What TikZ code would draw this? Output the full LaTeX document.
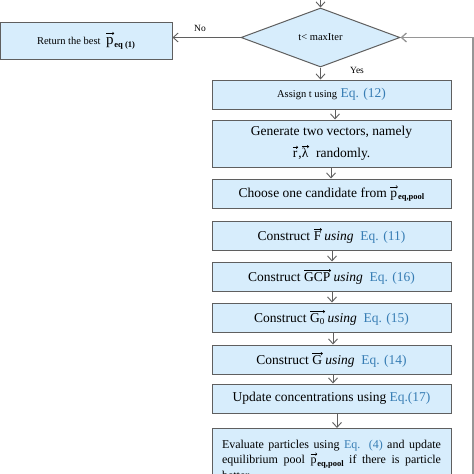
\documentclass[tikz,border=0pt]{standalone}
\usepackage{fontspec}
\setmainfont{Liberation Serif}
\usetikzlibrary{arrows.meta,shapes.geometric}
\definecolor{boxfill}{RGB}{215,237,252}
\definecolor{boxedge}{RGB}{95,95,95}
\definecolor{eqblue}{RGB}{55,125,180}
\definecolor{loopgray}{RGB}{150,150,150}
\newcommand\vv[1]{\tikz[baseline=(vt.base),x=1pt,y=1pt]{\node[inner sep=0pt,outer sep=0pt,draw=none,fill=none,minimum size=0pt] (vt) {#1\vphantom{I}};\draw[black,line width=0.5pt,-{To[length=2pt,width=3.2pt]}] ([yshift=1.6pt]vt.north west) -- ([yshift=1.6pt,xshift=0.6pt]vt.north east);}}
\newcommand\subx[1]{\raisebox{-2.5pt}{\fontsize{8.5}{8.5}\selectfont\bfseries #1}}
\newcommand\eqb[1]{\textcolor{eqblue}{#1}}
\newcommand\usingit{\textit{using}}
\hyphenpenalty=10000
\exhyphenpenalty=10000
\begin{document}
\begin{tikzpicture}[x=1pt,y=-1pt,
  stepbox/.style={draw=boxedge,line width=1pt,fill=boxfill,minimum width=239pt,minimum height=29pt,inner sep=2pt,font=\fontsize{13.5}{15}\selectfont},
  decis/.style={draw=boxedge,line width=1pt,fill=boxfill,diamond,aspect=2.7,minimum width=159pt,minimum height=59pt,inner sep=0pt,font=\fontsize{10.5}{12}\selectfont},
  arr/.style={draw=boxedge,line width=0.9pt,-{Straight Barb[length=5pt,width=9pt]}},
  lbl/.style={font=\fontsize{9.5}{11}\selectfont,inner sep=0pt}]
\clip (0,0) rectangle (474,474);
\fill[white] (0,0) rectangle (474,474);
\node[decis] (D) at (320.5,37.5) {t< maxIter};
\node[stepbox,minimum width=172pt,minimum height=37pt,font=\fontsize{10.5}{12}\selectfont] (R) at (86,40.5) {Return the best\ \ {\fontsize{15}{15}\selectfont\vv{p}}\subx{eq (1)}};
\node[stepbox] (A) at (331.5,94.5) {{\fontsize{10.5}{12}\selectfont Assign t using} \eqb{Eq. (12)}};
\node[stepbox,minimum height=47pt,align=center,font=\fontsize{13.5}{22}\selectfont] (B) at (331.5,143.5) {Generate two vectors, namely\\ \vv{r},\vv{λ}\ \ randomly.};
\node[stepbox] (C) at (331.5,193.5) {Choose one candidate from \vv{p}\subx{eq,pool}};
\node[stepbox] (F) at (331.5,235.5) {Construct \vv{F}\,\usingit\ \ \eqb{Eq. (11)}};
\node[stepbox] (P) at (331.5,276.5) {Construct \vv{GCP}\,\usingit\ \ \eqb{Eq. (16)}};
\node[stepbox] (G0) at (331.5,317.5) {Construct \vv{G\raisebox{-2pt}{\fontsize{9}{9}\selectfont 0}}\,\usingit\ \ \eqb{Eq. (15)}};
\node[stepbox] (G) at (331.5,359.5) {Construct \vv{G}\,\usingit\ \ \eqb{Eq. (14)}};
\node[stepbox] (U) at (331.5,398.5) {Update concentrations using \eqb{Eq.(17)}};
\node[stepbox,minimum height=62pt,anchor=north,text width=219pt,align=justify,font=\fontsize{12}{15.5}\selectfont,inner ysep=6pt] (E) at (331.5,428) {Evaluate particles using \eqb{Eq. (4)} and update equilibrium pool \vv{p}\subx{eq,pool} if there is particle better.};
% connectors
\coordinate (top) at (320.5,0);
\coordinate (loopbot) at (473,480);
\draw[arr] (top) -- (D.north);
\draw[arr] (D.west) -- (D.west -| R.east);
\draw[arr] (D.south) -- (D.south |- A.north);
\draw[arr] ([xshift=3.5pt]A.south) -- ([xshift=3.5pt]B.north);
\draw[arr] ([xshift=-0.5pt]B.south) -- ([xshift=-0.5pt]C.north);
\draw[arr] ([xshift=0.5pt]F.south) -- ([xshift=0.5pt]P.north);
\draw[arr] ([xshift=0.5pt]P.south) -- ([xshift=0.5pt]G0.north);
\draw[arr] ([xshift=1.5pt]G0.south) -- ([xshift=1.5pt]G.north);
\draw[arr] ([xshift=1.5pt]G.south) -- ([xshift=1.5pt]U.north);
\draw[arr] ([xshift=5.5pt]U.south) -- ([xshift=5.5pt]E.north);
\draw[arr,draw=loopgray,line width=1.3pt] (loopbot) -- (loopbot |- D.east) -- (D.east);
\node[lbl] (no) at (200,28) {No};
\node[lbl] (yes) at (357,70) {Yes};
\end{tikzpicture}
\end{document}
